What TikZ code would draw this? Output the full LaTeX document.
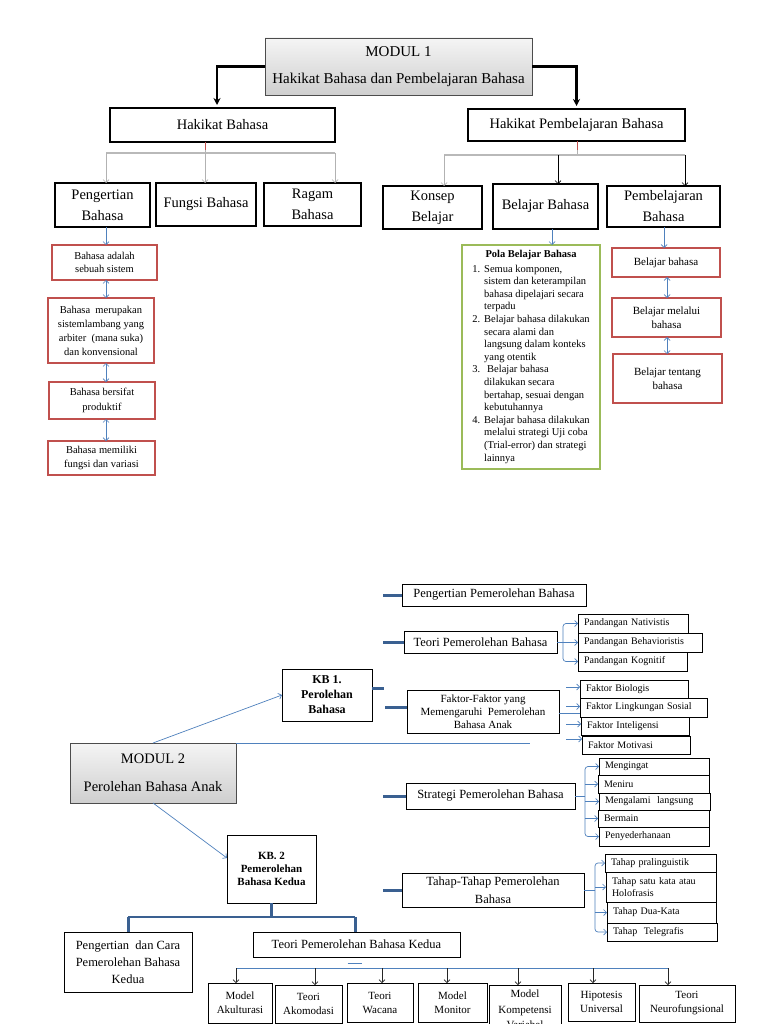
\documentclass[tikz,border=0pt]{standalone}
\usepackage{fontspec}
\setmainfont{Liberation Serif}
\usetikzlibrary{arrows.meta,calc}
\definecolor{wblue}{RGB}{79,129,189}
\definecolor{wred}{RGB}{192,80,77}
\definecolor{wgreen}{RGB}{155,187,89}
\definecolor{sblue}{RGB}{58,96,145}
\newcommand\fs[2]{\fontsize{#1}{#2}\selectfont}
\newcommand\bx[7]{%
 \pgfmathsetmacro\cx{(#3+#5)/2}\pgfmathsetmacro\cy{(#4+#6)/2}%
 \pgfmathsetmacro\ww{#5-#3}\pgfmathsetmacro\hh{#6-#4}%
 \node[#2, minimum width=\ww pt, minimum height=\hh pt] (#1) at (\cx,\cy) {#7};}
\newcommand\lbx[7]{%
 \pgfmathsetmacro\cx{(#3+#5)/2}\pgfmathsetmacro\cy{(#4+#6)/2}%
 \pgfmathsetmacro\tw{#5-#3-12}\pgfmathsetmacro\hh{#6-#4}%
 \node[#2, text width=\tw pt, inner xsep=6pt, inner ysep=0pt, align=left, minimum height=\hh pt] (#1) at (\cx,\cy) {#7};}
\tikzset{
 mainbox/.style={draw=black, line width=1.6pt, fill=white, align=center, font=\fs{14.5}{21}},
 modbox/.style={draw=gray!60!black, line width=0.8pt, top color=gray!8, bottom color=gray!38, align=center},
 redbox/.style={draw=wred, line width=1.4pt, fill=white, align=center, font=\fs{10.5}{14}},
 grnbox/.style={draw=wgreen, line width=1.2pt, fill=white},
 tbox/.style={draw=black, line width=0.8pt, fill=white, align=center},
 sbox/.style={draw=black, line width=0.8pt, fill=white, font=\fs{10}{12}},
 bline/.style={draw=wblue, line width=0.7pt},
 barr/.style={bline, -{Straight Barb[length=3pt,width=6pt]}},
 bdbl/.style={bline, {Straight Barb[length=3pt,width=6pt]}-{Straight Barb[length=3pt,width=6pt]}},
 stubline/.style={draw=sblue, line width=3pt},
 garr/.style={draw=gray!60, line width=0.7pt, -{Straight Barb[length=3pt,width=6pt]}},
 karr/.style={draw=black, line width=0.6pt, -{Straight Barb[length=3pt,width=6pt]}},
 darr/.style={draw=gray!30!black, line width=0.6pt, -{Straight Barb[length=3pt,width=6pt]}},
 thk/.style={draw=black, line width=2.6pt, -{Stealth[length=7pt,width=7pt]}, shorten >=3pt},
}
\begin{document}
\begin{tikzpicture}[x=1pt,y=-1pt,inner sep=0pt,outer sep=0pt]
\useasboundingbox (0,0) rectangle (768,1024);
\fill[white] (0,0) rectangle (768,1024);

% ---------------- MODUL 1 ----------------
\bx{m1}{modbox,font=\fs{15}{27}}{265}{38}{532}{95}{MODUL 1\\Hakikat Bahasa dan Pembelajaran Bahasa}
\bx{hb}{mainbox}{110}{108}{335}{142}{Hakikat Bahasa}
\bx{hpb}{mainbox}{468}{109}{685}{141}{Hakikat Pembelajaran Bahasa}
\bx{pb}{mainbox}{55}{183}{150}{227}{Pengertian\\Bahasa}
\bx{fb}{mainbox}{156}{183}{256}{226}{Fungsi Bahasa}
\bx{rb}{mainbox}{264}{183}{361}{226}{Ragam\\Bahasa}
\bx{kb}{mainbox}{383}{186}{482}{229}{Konsep\\Belajar}
\bx{bb}{mainbox}{493}{184}{598}{229}{Belajar Bahasa}
\bx{pbb}{mainbox}{607}{186}{720}{227}{Pembelajaran\\Bahasa}

\draw[thk] (m1.west) -| ([xshift=-5.5pt]hb.north);
\draw[thk] (m1.east) -| (hpb.north);

% Hakikat Bahasa branch
\coordinate (hbl) at (106,153);
\coordinate (hbm) at (205,153);
\coordinate (hbr) at (335,153);
\draw[wred, line width=0.6pt] (hbm |- hb.south) -- ++(0,8);
\draw[gray!60, line width=0.6pt] (205,150) -- (hbm);
\draw[gray!55, line width=1.1pt] (hbl) -- (hbr);
\draw[garr] (hbl) -- (hbl |- pb.north);
\draw[garr] (hbm) -- (hbm |- fb.north);
\draw[garr] (hbr) -- (hbr |- rb.north);

% Hakikat Pembelajaran branch
\coordinate (hpl) at (444,155);
\coordinate (hpm) at (558,155);
\coordinate (hpr) at (685,155);
\coordinate (hps) at (577,155);
\draw[wred, line width=0.6pt] (hps |- hpb.south) -- ++(0,9);
\draw[gray!60, line width=0.6pt] (577,150) -- (hps);
\draw[gray!55, line width=1.1pt] (hpl) -- (hpr);
\draw[garr] (hpl) -- (hpl |- kb.north);
\draw[karr] (hpm) -- (hpm |- bb.north);
\draw[karr] (hpr) -- (hpr |- pbb.north);

% left red column
\bx{r1}{redbox,font=\fs{10.5}{13}}{52}{245}{157}{280}{Bahasa adalah\\sebuah sistem}
\bx{r2}{redbox}{48}{298}{154}{363}{Bahasa\ \ merupakan\\sistemlambang yang\\arbiter\ \ (mana suka)\\dan konvensional}
\bx{r3}{redbox,font=\fs{10.5}{15}}{49}{382}{155}{419}{Bahasa bersifat\\produktif}
\bx{r4}{redbox,font=\fs{10.5}{13.5}}{48}{441}{155}{475}{Bahasa memiliki\\fungsi dan variasi}
\coordinate (c1) at (106,0);
\draw[barr] (c1 |- pb.south) -- (c1 |- r1.north);
\draw[bdbl] (c1 |- r1.south) -- (c1 |- r2.north);
\draw[bdbl] (c1 |- r2.south) -- (c1 |- r3.north);
\draw[bdbl] (c1 |- r3.south) -- (c1 |- r4.north);

% green box
\bx{g}{grnbox,font=\fs{10.5}{12.6}}{462}{245}{600}{469}{%
\begin{tabular}{@{}r@{\hspace{4pt}}l@{}}
\multicolumn{2}{c}{\textbf{Pola Belajar Bahasa}}\\[1.5pt]
1. & Semua komponen,\\
 & sistem dan keterampilan\\
 & bahasa dipelajari secara\\
 & terpadu\\
2. & Belajar bahasa dilakukan\\
 & secara alami dan\\
 & langsung dalam konteks\\
 & yang otentik\\
3. & \hspace{3pt}Belajar bahasa\\
 & dilakukan secara\\
 & bertahap, sesuai dengan\\
 & kebutuhannya\\
4. & Belajar bahasa dilakukan\\
 & melalui strategi Uji coba\\
 & (Trial-error) dan strategi\\
 & lainnya
\end{tabular}}
\coordinate (c2) at (552,0);
\draw[barr] (c2 |- bb.south) -- (c2 |- g.north);

% right red column
\bx{s1}{redbox,font=\fs{11}{14}}{612}{248}{720}{277}{Belajar bahasa}
\bx{s2}{redbox,font=\fs{11}{14}}{612}{298}{721}{337}{Belajar melalui\\bahasa}
\bx{s3}{redbox,font=\fs{11}{14}}{613}{354}{722}{403}{Belajar tentang\\bahasa}
\coordinate (c3) at (664,0);
\coordinate (c4) at (667,0);
\draw[barr] (c3 |- pbb.south) -- (c3 |- s1.north);
\draw[bdbl] (c4 |- s1.south) -- (c4 |- s2.north);
\draw[bdbl] (c4 |- s2.south) -- (c4 |- s3.north);

% ---------------- MODUL 2 ----------------
\bx{m2}{modbox,font=\fs{14.5}{28}}{70}{743}{236}{803}{MODUL 2\\Perolehan Bahasa Anak}
\bx{kb1}{tbox,font=\fs{12}{15}\bfseries}{282}{669}{372}{721}{KB 1.\\Perolehan\\Bahasa}
\bx{kb2}{tbox,font=\fs{11}{13}\bfseries}{227}{835}{316}{903}{KB. 2\\Pemerolehan\\Bahasa Kedua}

\bx{t1}{tbox,font=\fs{12.5}{16}}{402}{584}{586}{606}{Pengertian Pemerolehan Bahasa}
\bx{t2}{tbox,font=\fs{12.5}{16}}{404}{631}{557}{653}{Teori Pemerolehan Bahasa}
\bx{t3}{tbox,font=\fs{11}{13}}{407}{690}{559}{733}{Faktor-Faktor yang\\Memengaruhi\ \ Pemerolehan\\Bahasa Anak}
\bx{t4}{tbox,font=\fs{12.5}{16}}{406}{783}{575}{809}{Strategi Pemerolehan Bahasa}
\bx{t5}{tbox,font=\fs{12.5}{18}}{402}{873}{584}{907}{Tahap-Tahap Pemerolehan\\Bahasa}

\draw[barr] (m2.north) -- (kb1.west);
\draw[barr] (m2.south) -- ([yshift=11pt]kb2.west);
\coordinate (lend) at (530,743);
\draw[bline] (m2.north east) -- (lend);

\draw[stubline] ([yshift=7pt]kb1.east) -- ++(12,0);
\draw[stubline] (t1.west) -- ++(-19,0);
\draw[stubline] (t2.west) -- ++(-21,0);
\draw[stubline] ([yshift=4pt]t3.west) -- ++(-22,0);
\draw[stubline] (t4.west) -- ++(-23,0);
\draw[stubline] (t5.west) -- ++(-19,0);

% Teori children
\lbx{n1}{sbox}{578}{614}{688}{633}{Pandangan Nativistis}
\lbx{n2}{sbox}{578}{633}{702}{652}{Pandangan Behavioristis}
\lbx{n3}{sbox}{578}{652}{687}{671}{Pandangan Kognitif}
\coordinate (v2) at (563,0);
\draw[bline] (t2.east) -- (v2 |- t2.east);
\draw[barr, rounded corners=3pt] (v2 |- t2.east) |- (n1.west);
\draw[barr] (v2 |- n2.west) -- (n2.west);
\draw[barr, rounded corners=3pt] (v2 |- t2.east) |- (n3.west);

% Faktor children
\lbx{f1}{sbox}{580}{680}{688}{698}{Faktor Biologis}
\lbx{f2}{sbox}{580}{698}{707}{717}{Faktor Lingkungan Sosial}
\lbx{f3}{sbox}{581}{717}{689}{735}{Faktor Inteligensi}
\lbx{f4}{sbox}{582}{736}{690}{754}{Faktor Motivasi}
\coordinate (v3) at (566,0);
\draw[barr] ([yshift=2pt]v3 |- f1.west) -- ([yshift=2pt]f1.west);
\draw[barr] ([yshift=1pt]v3 |- f2.west) -- ([yshift=1pt]f2.west);
\draw[barr] ([yshift=2pt]v3 |- f3.west) -- ([yshift=2pt]f3.west);
\draw[barr] ([yshift=6pt]v3 |- f4.west) -- ([yshift=6pt]f4.west);
\draw[bline] ([yshift=-1.5pt]t3.east) -- ([yshift=-1.5pt]t3.east -| f2.west);

% Strategi children
\lbx{g1}{sbox}{599}{758}{709}{775}{Mengingat}
\lbx{g2}{sbox}{598}{775}{709}{793}{Meniru}
\lbx{g3}{sbox}{599}{793}{710}{810}{Mengalami\ \ langsung}
\lbx{g4}{sbox}{598}{810}{709}{827}{Bermain}
\lbx{g5}{sbox}{599}{827}{709}{846}{Penyederhanaan}
\coordinate (v4) at (585,0);
\draw[bline] (t4.east) -- (v4 |- t4.east);
\draw[barr, rounded corners=3pt] (v4 |- t4.east) |- (g1.west);
\draw[barr] (v4 |- g2.west) -- (g2.west);
\draw[barr] (v4 |- g3.west) -- (g3.west);
\draw[barr] (v4 |- g4.west) -- (g4.west);
\draw[barr, rounded corners=3pt] (v4 |- t4.east) |- (g5.west);

% Tahap children
\lbx{h1}{sbox}{605}{854}{716}{872}{Tahap pralinguistik}
\lbx{h2}{sbox,font=\fs{10}{11.5}}{606}{872}{716}{902}{Tahap satu kata atau\\Holofrasis}
\lbx{h3}{sbox}{607}{902}{716}{923}{Tahap Dua-Kata}
\lbx{h4}{sbox}{607}{923}{717}{941}{Tahap\ \ Telegrafis}
\coordinate (v5) at (595,0);
\draw[bline] (t5.east) -- (v5 |- t5.east);
\draw[barr, rounded corners=3pt] (v5 |- t5.east) |- (h1.west);
\draw[barr] (v5 |- h2.west) -- (h2.west);
\draw[barr] (v5 |- h3.west) -- (h3.west);
\draw[barr, rounded corners=3pt] (v5 |- t5.east) |- (h4.west);

% KB 2 tree
\bx{p2}{tbox,font=\fs{12.5}{17}}{64}{932}{192}{992}{Pengertian\ \ dan Cara\\Pemerolehan Bahasa\\Kedua}
\bx{tk}{tbox,font=\fs{12.5}{16}}{253}{932}{460}{957}{Teori Pemerolehan Bahasa Kedua}
\coordinate (k2l) at (128,917);
\coordinate (k2r) at (355,917);
\draw[stubline] (kb2.south) -- (kb2.south |- k2l);
\draw[draw=sblue, line width=1.4pt] (k2l) -- (k2r);
\draw[stubline] (k2l) -- (k2l |- p2.north);
\draw[stubline] (k2r) -- (k2r |- tk.north);
\draw[wblue, line width=1pt] ([xshift=-9pt,yshift=-6pt]tk.south) -- ++(14,0);

% bottom row
\bx{b1}{tbox,font=\fs{11}{14}}{208}{983}{272}{1023}{Model\\Akulturasi}
\bx{b2}{tbox,font=\fs{11}{14}}{275}{985}{342}{1023}{Teori\\Akomodasi}
\bx{b3}{tbox,font=\fs{11}{14}}{347}{983}{413}{1022}{Teori\\Wacana}
\bx{b4}{tbox,font=\fs{11}{14}}{418}{983}{487}{1022}{Model\\Monitor}
\bx{b5}{tbox,font=\fs{11}{15.5}}{489}{985}{561}{1034}{Model\\Kompetensi\\Variabel}
\bx{b6}{tbox,font=\fs{11}{14}}{568}{983}{635}{1021}{Hipotesis\\Universal}
\bx{b7}{tbox,font=\fs{11}{14}}{639}{985}{735}{1022}{Teori\\Neurofungsional}
\foreach \n/\xx in {1/236,2/315,3/382,4/447,5/518,6/593,7/668} {\coordinate (d\n) at (\xx,968);}
\draw[bline] (d1) -- (d7);
\foreach \n in {1,...,7} {\draw[darr] (d\n) -- (d\n |- b\n.north);}
\end{tikzpicture}
\end{document}
